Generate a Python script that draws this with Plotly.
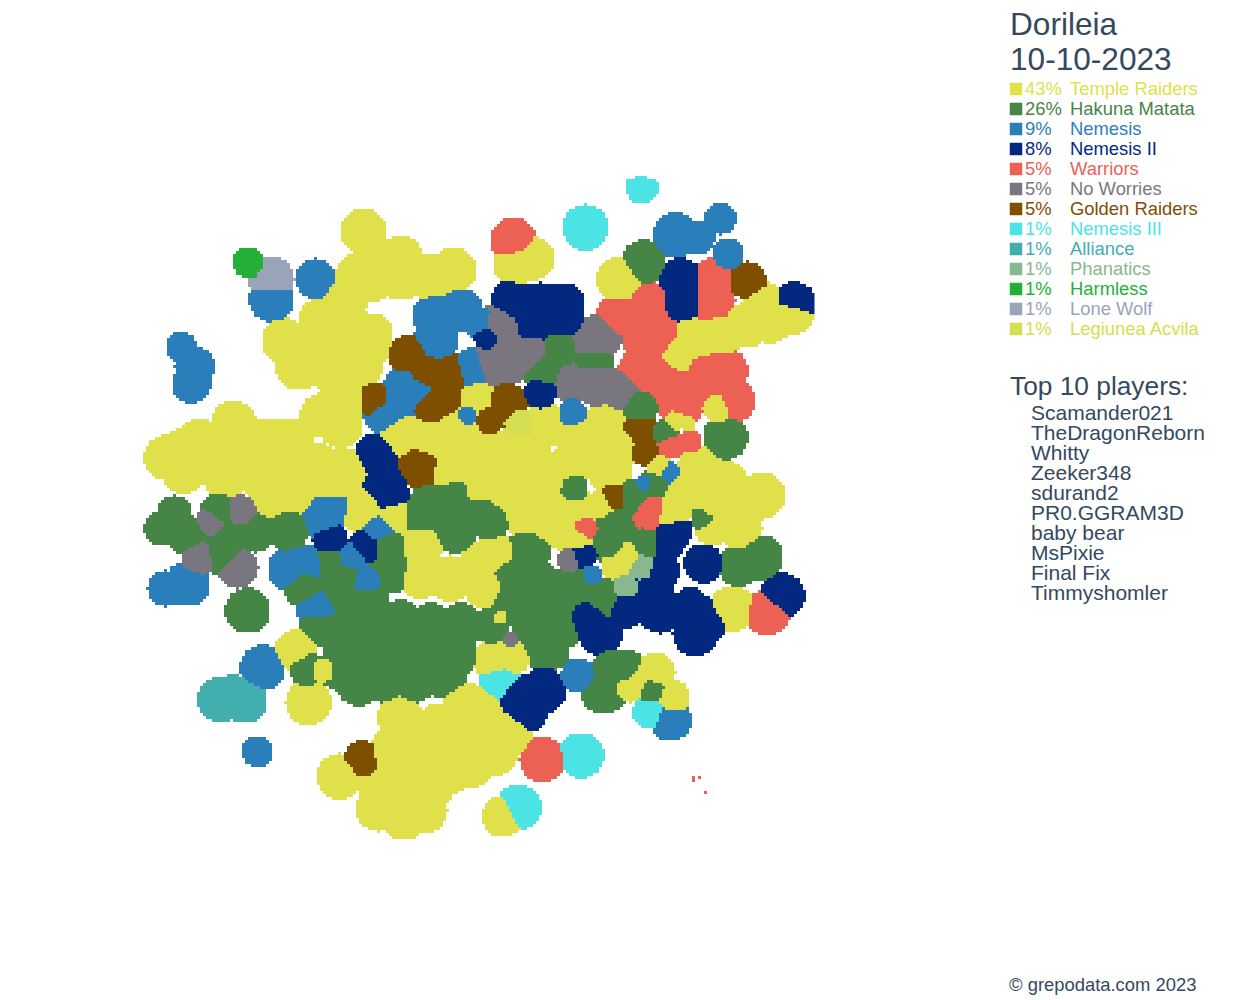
import numpy as np
import plotly.graph_objects as go

title_lines = ["Dorileia", "10-10-2023"]
alliances = ["Temple Raiders", "Hakuna Matata", "Nemesis", "Nemesis II", "Warriors", "No Worries",
             "Golden Raiders", "Nemesis III", "Alliance", "Phanatics", "Harmless", "Lone Wolf", "Legiunea Acvila"]
shares = ["43%", "26%", "9%", "8%", "5%", "5%", "5%", "1%", "1%", "1%", "1%", "1%", "1%"]
colors = ["#e0e04a", "#458545", "#2a7fba", "#03287f", "#ec6154", "#7a7680", "#7f4f00",
          "#4be3e3", "#41aeb0", "#88b890", "#24b038", "#9aa4b8", "#d5de50"]
players = ["Scamander021", "TheDragonReborn", "Whitty", "Zeeker348", "sdurand2", "PR0.GGRAM3D",
           "baby bear", "MsPixie", "Final Fix", "Timmyshomler"]

# towns: (x, y, reach) on the world map
temple_raiders = [
    (363,231,23),(400,258,23),(380,265,23),(453,270,23),(425,275,23),(358,275,23),(400,277,23),(430,278,23),(372,278,23),(345,298,23),
    (284,340,23),(321,320,23),(345,320,23),(370,335,23),(369,345,23),(330,350,23),(300,345,23),(298,367,23),(330,369,23),(360,365,23),
    (345,400,23),(322,415,23),(340,425,23),(233,423,23),(166,457,23),(200,441,23),(183,451,23),(183,470,23),(205,455,23),(235,450,23),
    (265,440,23),(290,440,23),(280,470,23),(250,470,23),(225,475,23),(320,466,23),(345,470,23),(330,490,23),(295,492,23),(270,497,23),
    (400,435,23),(430,440,23),(460,430,23),(490,450,23),(520,445,23),(545,425,23),(575,435,23),(605,425,23),(600,460,23),(570,465,23),
    (540,470,23),(510,480,23),(480,490,23),(450,468,23),(465,455,23),(530,470,23),(548,487,23),(530,492,23),(620,445,23),(610,472,23),
    (575,510,23),(545,505,23),(520,510,23),(500,490,23),(600,503,14),(525,515,23),(550,522,23),(562,527,23),(578,538,14),
    (475,398,23),(362,510,23),(395,515,23),
    (690,340,23),(720,335,23),(745,325,23),(770,320,23),(792,311,23),(764,304,23),(680,352,23),(700,347,23),(716,408,14),(675,420,10),(688,424,8),
    (762,495,23),(725,483,23),(700,468,23),(680,490,23),(740,515,23),(710,507,23),(712,528,18),(670,515,18),(740,528,22),(660,468,14),
    (515,264,22),(532,258,22),(619,279,23),
    (420,545,23),(420,575,23),(450,578,23),(480,565,23),(495,555,22),(485,585,23),(500,617,7),
    (295,650,21),(322,670,12),(308,702,23),(495,660,22),(512,657,18),
    (615,565,15),(628,555,15),(655,672,20),(638,680,16),(630,688,14),(672,697,18),(732,608,23),
    (400,717,23),(465,705,23),(440,725,23),(420,740,23),(395,745,23),(395,770,23),(420,770,23),(450,770,23),(480,708,23),(510,733,23),
    (460,745,23),(490,745,23),(470,765,23),(495,752,23),(339,776,23),(380,790,23),(388,755,23),(403,817,23),(424,810,23),(378,808,23),(400,790,23),(430,788,23),
    (502,816,21),
]
hakuna_matata = [
    (174,512,17),(160,528,17),(218,512,19),(230,535,23),(187,535,20),(255,532,20),(288,530,20),(222,552,23),
    (247,610,23),(430,505,23),(455,497,23),(480,510,22),(490,520,20),(420,515,20),(385,545,23),(390,570,23),(455,530,23),
    (345,575,23),(330,562,23),(305,585,23),(340,595,23),(365,600,23),(320,625,23),(350,615,23),(345,650,23),(375,620,23),(400,622,23),(430,625,23),(460,625,23),
    (375,650,23),(405,650,23),(435,650,23),(455,655,23),(358,683,23),(385,680,23),(413,680,23),(443,675,23),(340,668,23),(306,668,18),
    (528,551,23),(510,575,23),(540,585,23),(512,600,23),(530,615,23),(555,610,23),(560,630,20),(540,645,23),(490,625,18),(555,655,14),(575,585,23),
    (560,352,23),(590,363,23),(545,370,23),(640,408,18),(665,432,14),(725,437,23),(643,262,23),
    (574,488,14),(632,497,20),(655,482,16),(615,525,23),(610,545,20),(645,545,18),(703,518,13),(738,565,21),(760,557,23),(605,597,20),
    (605,690,23),(610,670,20),(625,668,20),(600,692,20),(650,690,14),
]
nemesis = [
    (271,299,23),(315,278,20),(181,347,16),(194,366,20),(191,383,20),
    (435,315,23),(460,310,23),(478,322,16),(435,340,23),(472,370,23),(405,388,23),(385,412,23),(395,400,23),(415,392,23),
    (467,415,9),(572,412,14),(165,588,18),(187,583,23),(290,568,23),(308,565,22),(330,505,23),(322,518,23),
    (378,530,18),(350,558,18),(366,580,14),(318,607,23),(262,667,23),(257,751,16),(578,675,18),(670,720,21),
    (675,235,23),(697,237,18),(720,218,16),(728,253,16),(592,574,10),(667,472,12),(643,482,8),
]
nemesis_ii = [
    (513,300,22),(562,305,23),(540,305,23),(535,320,23),(560,318,23),(485,337,12),(540,392,16),
    (680,280,23),(680,300,23),(794,304,23),(377,455,23),(385,485,23),(390,495,20),(330,540,18),(366,545,18),
    (543,690,23),(518,695,23),(527,712,20),(588,620,23),(600,632,23),(625,605,23),(650,590,23),(660,570,20),(665,545,18),(660,610,23),(690,600,14),
    (672,530,20),(703,563,20),(695,633,23),(695,615,23),(705,622,22),(583,555,14),(782,595,23),
]
warriors = [
    (513,240,23),(619,315,23),(650,304,23),(660,335,23),(645,340,23),(650,330,23),(640,370,23),(670,385,23),(700,385,23),(705,365,23),(725,370,23),(732,400,23),
    (680,405,23),(655,375,23),(670,445,14),(690,440,12),(712,280,23),(712,300,23),(650,512,20),(585,528,12),(542,759,23),(767,612,23),
    (693,778,2),(698,776,2),(704,791,2),
]
no_worries = [
    (497,325,23),(510,360,23),(490,365,23),(530,355,23),(600,335,23),(590,345,23),(570,378,23),(590,373,23),(600,385,23),(620,390,20),
    (212,520,16),(240,510,16),(198,558,17),(237,567,21),(568,560,12),(510,639,7),
]
golden_raiders = [
    (408,355,20),(425,372,23),(450,375,23),(445,395,23),(430,405,18),(375,400,18),(420,465,23),
    (640,430,18),(645,450,16),(505,405,23),(490,420,14),(362,758,18),(613,496,14),(747,280,19),
]
nemesis_iii = [(585,227,23),(634,187,10),(649,187,10),(641,190,14),(500,680,23),(648,712,16),(581,755,23),(518,807,23)]
alliance = [(220,699,23),(233,697,23),(244,700,23)]
phanatics = [(625,587,13),(642,565,15)]
harmless = [(248,262,16)]
lone_wolf = [(271,279,23)]
legiunea_acvila = [(518,423,14)]

towns = [temple_raiders, hakuna_matata, nemesis, nemesis_ii, warriors, no_worries, golden_raiders,
         nemesis_iii, alliance, phanatics, harmless, lone_wolf, legiunea_acvila]

sx = np.array([t[0] for g in towns for t in g], float)
sy = np.array([t[1] for g in towns for t in g], float)
sr = np.array([t[2] for g in towns for t in g], float)
sa = np.array([i for i, g in enumerate(towns) for _ in g])

gx = np.arange(141, 816, 3)
gy = np.arange(171, 846, 3)
X, Y = np.meshgrid(gx, gy)
D = np.hypot(X[..., None] - sx, Y[..., None] - sy)
D[D > sr] = np.inf
near = D.argmin(axis=-1)
z = sa[near].astype(float)
z[np.isinf(D.min(axis=-1))] = np.nan

n = len(alliances)
cs = []
for i, c in enumerate(colors):
    cs += [[i / n, c], [(i + 1) / n, c]]

fig = go.Figure(go.Heatmap(x=gx, y=gy, z=z, zmin=-0.5, zmax=n - 0.5, colorscale=cs, showscale=False,
                           hoverongaps=False))
font = "Liberation Sans, Arial, sans-serif"
ink = "#34495e"
ann = []
def text(x, y, s, size, color):
    ann.append(dict(x=x, y=y, text=s, xref="x", yref="y", xanchor="left", yanchor="middle", showarrow=False,
                    font=dict(family=font, size=size, color=color)))
text(1008, 24, title_lines[0], 31.6, ink)
text(1008, 59, title_lines[1], 31.6, ink)
for i, (a, s, c) in enumerate(zip(alliances, shares, colors)):
    y = 88 + 20 * i
    text(1023, y, s, 18.4, c)
    text(1068, y, a, 18.4, c)
text(1008, 386, "Top 10 players:", 26.3, ink)
for i, p in enumerate(players):
    text(1029, 412.5 + 20 * i, p, 21, ink)
text(1007, 984, "© grepodata.com 2023", 18.4, ink)

fig.add_trace(go.Scatter(x=[1016] * n, y=[89 + 20 * i for i in range(n)], mode="markers", hoverinfo="skip",
                         marker=dict(symbol="square", size=12.5, color=colors, line=dict(width=0))))
fig.update_layout(width=1250, height=1000, margin=dict(l=0, r=0, t=0, b=0), plot_bgcolor="white", paper_bgcolor="white",
                  showlegend=False, annotations=ann,
                  xaxis=dict(range=[0, 1250], visible=False, fixedrange=True),
                  yaxis=dict(range=[1000, 0], visible=False, fixedrange=True))
fig.write_html("out.html", config={"displayModeBar": False}, post_script="document.body.style.margin='0';")
